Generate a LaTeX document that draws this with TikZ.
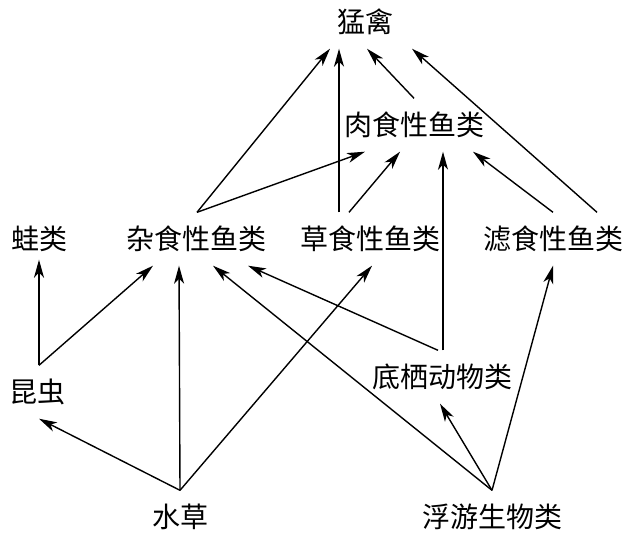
\documentclass[tikz,border=0pt]{standalone}
\usepackage{fontspec}
\newfontfamily\cjk{Noto Sans CJK SC}
\usetikzlibrary{arrows.meta,positioning}

\begin{document}
\begin{tikzpicture}[x=0.5pt,y=-0.5pt,>={Stealth[length=9pt,width=5pt,inset=2.5pt]},line width=0.7pt,
	every node/.style={font=\cjk\fontsize{14pt}{14pt}\selectfont,inner xsep=0pt,inner ysep=6.7pt,text height=11.6pt,text depth=1pt}]
		\useasboundingbox (0,0) rectangle (640,542);
		\node (mq) at (365,22) {猛禽};
		\node (rs) at (414,125) {肉食性鱼类};
		\node (wl) at (39,239) {蛙类};
		\node (zs) at (196,239) {杂食性鱼类};
		\node (cs) at (370,239) {草食性鱼类};
		\node (ls) at (553,239) {滤食性鱼类};
		\node (kc) at (38,392) {昆虫};
		\node (dq) at (442,377) {底栖动物类};
		\node (sc) at (180,517) {水草};
		\node (fy) at (492,517) {浮游生物类};

		\path[->]
		([xshift=0.5pt]zs.north) edge ([xshift=-17.5pt]mq.south)
		([xshift=-15.5pt]cs.north) edge ([xshift=-13pt]mq.south)
		(rs.north) edge ([xshift=1pt]mq.south)
		([xshift=22pt]ls.north) edge ([xshift=23.5pt]mq.south)
		([xshift=0.5pt]zs.north) edge ([xshift=-24.5pt]rs.south)
		([xshift=-10.5pt]cs.north) edge ([xshift=-7pt]rs.south)
		([xshift=0.5pt]dq.north) edge ([xshift=14.5pt]rs.south)
		(ls.north) edge ([xshift=29.5pt]rs.south)
		([xshift=0.5pt]kc.north) edge ([yshift=3pt]wl.south)
		([xshift=0.5pt]kc.north) edge ([xshift=-21.5pt]zs.south)
		(sc.north) edge ([xshift=0.5pt]kc.south)
		(sc.north) edge ([xshift=-8.5pt]zs.south)
		(sc.north) edge ([xshift=1pt]cs.south)
		(fy.north) edge ([xshift=8.5pt]zs.south)
		([xshift=-2pt]dq.north) edge ([xshift=26pt]zs.south)
		(fy.north) edge ([xshift=-1pt]dq.south)
		(fy.north) edge (ls.south)
		;
	\end{tikzpicture}
\end{document}
